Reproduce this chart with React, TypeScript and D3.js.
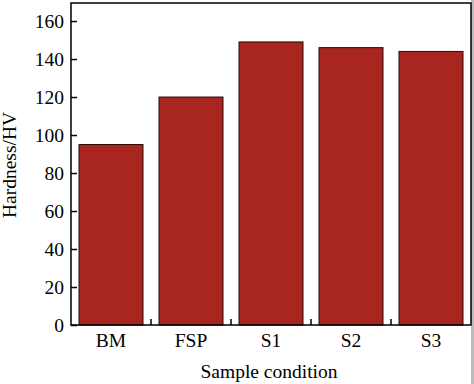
import React, { useEffect, useRef } from "react";
import * as d3 from "d3";

const categories = ["BM", "FSP", "S1", "S2", "S3"];
const hardness = [95, 120, 149, 146, 144];
const yTicks = [0, 20, 40, 60, 80, 100, 120, 140, 160];

const App = () => {
  const ref = useRef<SVGSVGElement>(null);

  useEffect(() => {
    const width = 474;
    const height = 384;
    const margin = { top: 3, right: 3, bottom: 59, left: 71 };
    const font = "'Liberation Serif', 'Times New Roman', serif";
    const fs = 19.5;

    const svg = d3.select(ref.current);
    svg.selectAll("*").remove();

    const x = d3
      .scaleBand()
      .domain(categories)
      .range([margin.left, width - margin.right])
      .paddingInner(0.2)
      .paddingOuter(0.1);

    const y = d3
      .scaleLinear()
      .domain([0, 169.5])
      .range([height - margin.bottom, margin.top]);

    svg.append("rect").attr("width", width).attr("height", height).attr("fill", "#fff");
    // grey edge on the right side
    svg.append("rect").attr("x", width - 3).attr("width", 3).attr("height", height).attr("fill", "#bbb");

    svg
      .append("g")
      .selectAll("rect")
      .data(hardness)
      .join("rect")
      .attr("x", (d, i) => x(categories[i])!)
      .attr("y", (d) => y(d))
      .attr("width", x.bandwidth())
      .attr("height", (d) => y(0) - y(d))
      .attr("fill", "#a82520")
      .attr("stroke", "#2a0a08")
      .attr("stroke-width", 1);

    // frame
    svg
      .append("rect")
      .attr("x", margin.left)
      .attr("y", margin.top)
      .attr("width", width - margin.left - margin.right)
      .attr("height", height - margin.top - margin.bottom)
      .attr("fill", "none")
      .attr("stroke", "#000")
      .attr("stroke-width", 1.5);

    // y axis, ticks inward
    const yAxis = svg
      .append("g")
      .attr("transform", `translate(${margin.left},0)`)
      .call(d3.axisRight(y).tickValues(yTicks).tickSize(6).tickSizeOuter(0));
    yAxis.select(".domain").remove();
    yAxis.selectAll("line").attr("stroke", "#000").attr("stroke-width", 1.5);
    yAxis
      .selectAll("text")
      .attr("x", -7)
      .attr("text-anchor", "end")
      .attr("font-family", font)
      .attr("font-size", fs)
      .attr("fill", "#000");

    // x axis: labels at centers, small ticks between categories
    const xAxis = svg
      .append("g")
      .attr("transform", `translate(0,${height - margin.bottom})`)
      .call(d3.axisBottom(x).tickSize(0).tickPadding(8));
    xAxis.select(".domain").remove();
    xAxis
      .selectAll("text")
      .attr("font-family", font)
      .attr("font-size", fs)
      .attr("fill", "#000");

    const step = x.step();
    const bounds = categories.slice(1).map((c) => x(c)! - (step - x.bandwidth()) / 2);
    svg
      .append("g")
      .selectAll("line")
      .data(bounds)
      .join("line")
      .attr("x1", (d) => d)
      .attr("x2", (d) => d)
      .attr("y1", y(0))
      .attr("y2", y(0) - 6)
      .attr("stroke", "#000")
      .attr("stroke-width", 1.5);

    svg
      .append("text")
      .attr("x", 269)
      .attr("y", 378)
      .attr("text-anchor", "middle")
      .attr("font-family", font)
      .attr("font-size", fs)
      .text("Sample condition");

    svg
      .append("text")
      .attr("transform", `translate(16,165) rotate(-90)`)
      .attr("text-anchor", "middle")
      .attr("font-family", font)
      .attr("font-size", fs)
      .text("Hardness/HV");
  }, []);

  return (
    <svg
      ref={ref}
      width={474}
      height={384}
      style={{ position: "absolute", left: 0, top: 0, display: "block" }}
    />
  );
};

export default App;
